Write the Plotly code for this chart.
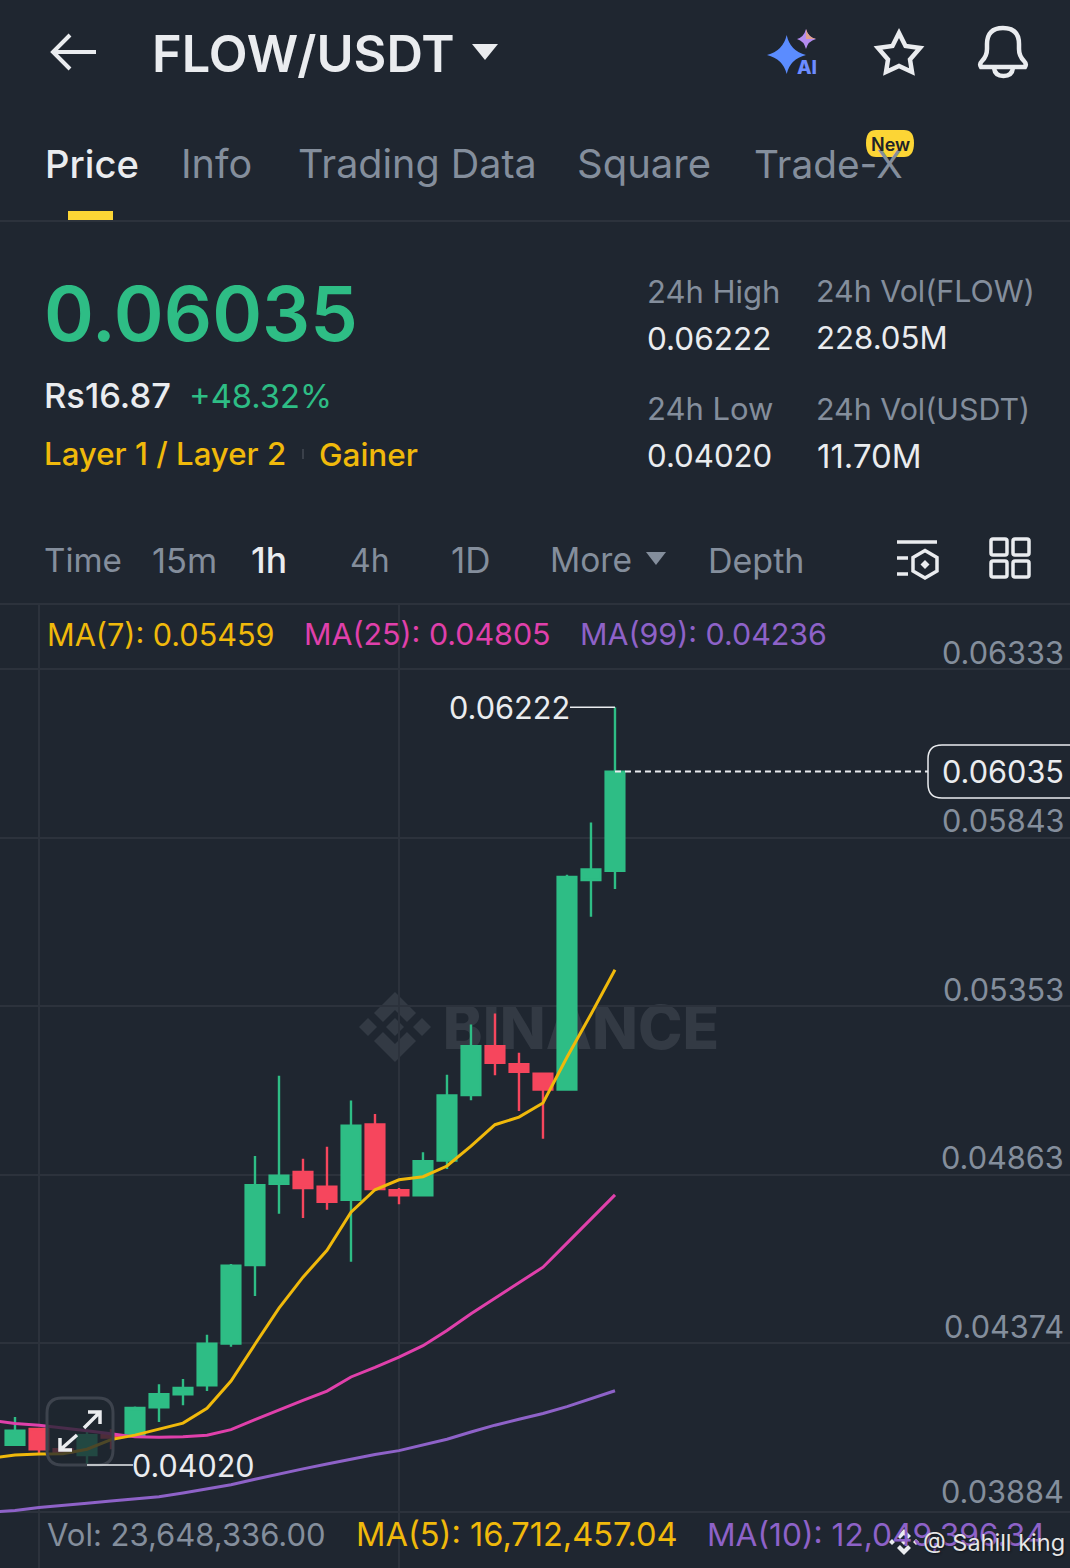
import re
import plotly.graph_objects as go

W, H = 1070, 1568
BG = "#1F2630"
GRID = "#2C323C"
GREEN = "#2EBD85"
RED = "#F6465D"
WHITE = "#EAECEF"
GREY = "#848E9C"
YELLOW = "#F0B90B"
PINK = "#E040AB"
PURPLE = "#8E62C8"
WM = "#333A44"
FONT = "Inter"

candle_x = list(range(26))
opens = [0.04079, 0.04125, 0.04066, 0.04049, 0.04107, 0.04107, 0.04188, 0.04226, 0.04252, 0.04373,
         0.04601, 0.04837, 0.04872, 0.04829, 0.04791, 0.05010, 0.04819, 0.04804, 0.04905, 0.05095,
         0.05237, 0.05185, 0.05157, 0.05111, 0.05720, 0.05747]
highs = [0.04160, 0.04125, 0.04075, 0.04118, 0.04124, 0.04190, 0.04255, 0.04270, 0.04399, 0.04604,
         0.04918, 0.05151, 0.04910, 0.04945, 0.05079, 0.05040, 0.04825, 0.04929, 0.05154, 0.05300,
         0.05332, 0.05218, 0.05160, 0.05735, 0.05887, 0.06222]
lows = [0.04079, 0.04049, 0.04052, 0.04020, 0.04066, 0.04107, 0.04145, 0.04194, 0.04235, 0.04364,
        0.04511, 0.04750, 0.04738, 0.04762, 0.04611, 0.04822, 0.04778, 0.04804, 0.04880, 0.05080,
        0.05153, 0.05049, 0.04968, 0.05111, 0.05613, 0.05694]
closes = [0.04120, 0.04066, 0.04057, 0.04107, 0.04100, 0.04186, 0.04226, 0.04244, 0.04373, 0.04599,
          0.04833, 0.04861, 0.04825, 0.04785, 0.05006, 0.04822, 0.04804, 0.04903, 0.05094, 0.05237,
          0.05189, 0.05163, 0.05111, 0.05729, 0.05751, 0.06035]

ma_x = list(range(-1, 26))
ma7 = [0.04040, 0.04049, 0.04052, 0.04053, 0.04066, 0.04094, 0.04107, 0.04125, 0.04142, 0.04185,
       0.04264, 0.04371, 0.04476, 0.04566, 0.04644, 0.04755, 0.04820, 0.04849, 0.04858, 0.04889,
       0.04947, 0.05009, 0.05031, 0.05072, 0.05205, 0.05330, 0.05459]
ma25 = [0.04150, 0.04141, 0.04136, 0.04129, 0.04120, 0.04111, 0.04102, 0.04101, 0.04102, 0.04107,
        0.04123, 0.04152, 0.04181, 0.04208, 0.04235, 0.04276, 0.04304, 0.04334, 0.04367, 0.04411,
        0.04460, 0.04505, 0.04550, 0.04595, 0.04665, 0.04736, 0.04805]
ma99 = [0.03883, 0.03888, 0.03897, 0.03902, 0.03909, 0.03916, 0.03921, 0.03928, 0.03939, 0.03950,
        0.03963, 0.03979, 0.03995, 0.04009, 0.04023, 0.04038, 0.04051, 0.04062, 0.04078, 0.04095,
        0.04116, 0.04136, 0.04153, 0.04170, 0.04190, 0.04213, 0.04236]

price_ticks = [0.06333, 0.05843, 0.05353, 0.04863, 0.04374, 0.03884]
price_labels = ["0.06333", "0.05843", "0.05353", "0.04863", "0.04374", "0.03884"]
time_grid = [1, 16]
last_price = 0.06035
high_price = 0.06222
low_price = 0.04020


def fx(px):
    return px / W


def fy(py):
    return 1 - py / H


def pth(d):
    # pixel path -> paper path
    out = []
    is_x = True
    for tok in re.findall(r"[A-Za-z]|-?\d+\.?\d*", d):
        if tok.isalpha():
            out.append(tok)
            is_x = True
        else:
            out.append(f"{fx(float(tok)):.5f}" if is_x else f"{fy(float(tok)):.5f}")
            is_x = not is_x
    return " ".join(out)


shapes = []
annots = []


def icon(d, line=None, lw=0, fill=None, layer="above"):
    shapes.append(dict(type="path", xref="paper", yref="paper", path=pth(d), layer=layer,
                       line=dict(color=line or "rgba(0,0,0,0)", width=lw),
                       fillcolor=fill or "rgba(0,0,0,0)"))


def hline(y, x0=0, x1=W, color=GRID, lw=2):
    icon(f"M{x0} {y} L{x1} {y}", line=color, lw=lw)


def txt(s, x, y, size, color=WHITE, anchor="left", weight=400, shadow=None):
    # annotations sit about 2px inside their anchor
    x = x - 2 if anchor == "left" else x
    font = dict(family=FONT, size=size, color=color, weight=weight)
    if shadow:
        font["shadow"] = shadow
    annots.append(dict(text=s, x=fx(x), y=fy(y), xref="paper", yref="paper", xanchor=anchor,
                       yanchor="middle", showarrow=False, borderpad=0, font=font))


fig = go.Figure()
fig.add_trace(go.Candlestick(
    x=candle_x, open=opens, high=highs, low=lows, close=closes,
    increasing=dict(line=dict(color=GREEN, width=2.4), fillcolor=GREEN),
    decreasing=dict(line=dict(color=RED, width=2.4), fillcolor=RED),
    whiskerwidth=0, hoverinfo="skip",
))
for vals, col in [(ma99, PURPLE), (ma25, PINK), (ma7, YELLOW)]:
    fig.add_trace(go.Scatter(x=ma_x, y=vals, mode="lines", line=dict(color=col, width=3),
                             hoverinfo="skip"))

# header
icon("M96 52 L54 52 M70 35 L53 52 L70 69", line=WHITE, lw=4)
txt("FLOW/USDT", 153, 54, 50.5, WHITE, weight=600)
icon("M472 44 L498 44 L485 60 Z", fill=WHITE)
icon("M786.7 35 Q790 51 806 55 Q790 59 786.7 74 Q783 59 767 55 Q783 51 786.7 35 Z", fill="#5B8CFF")
icon("M806 29 Q808 37 816 39 Q808 41 806 49 Q804 41 797 39 Q804 37 806 29 Z", fill="#B48CF0")
icon("M806 29 Q808 37 816 39 L806 39 Z", fill="#E0A08C")
txt("AI", 798, 67, 19, "#6C8CFF", weight=800)
icon("M899 33 L905.5 46 L920 48 L910 59.5 L912 72 L899 66 L886 72 L888 59.5 L878 48 L892.5 46 Z", line=WHITE, lw=4.5)
icon("M981 67 Q979 64 982 61 Q987 56 987 49 L987 44 Q987 28 1003 28 Q1019 28 1019 44 L1019 49 "
     "Q1019 56 1024 61 Q1027 64 1025 67 Z M994 68 Q995 76 1003.5 76 Q1012 76 1013 68", line=WHITE, lw=4.5)

# tabs
txt("Price", 46, 164, 38.2, WHITE, weight=500)
txt("Info", 182, 164, 39.5, GREY)
txt("Trading Data", 299, 164, 39.5, GREY)
txt("Square", 578, 164, 40, GREY)
txt("Trade-X", 755, 164, 38.8, GREY)
icon("M876 130 L904 130 Q914 130 914 143 Q914 157 904 157 L876 157 Q866 157 866 143 Q866 130 876 130 Z",
     fill="#FCD535")
txt("New", 890, 144, 18, "#1E2329", anchor="center", weight=600)
icon("M68 211 L113 211 L113 220 L68 220 Z", fill="#FCD535")
hline(221)

# price block
txt("0.06035", 45, 313, 75.7, GREEN, weight=600)
txt("Rs16.87", 45, 396, 34.5, WHITE, weight=500)
txt("+48.32%", 190, 396, 32.7, GREEN)
txt("Layer 1 / Layer 2", 45, 454, 31.2, YELLOW, weight=500)
icon("M303 449 L303 459", line="#3A404A", lw=2)
txt("Gainer", 320, 454, 31.5, YELLOW, weight=500)
txt("24h High", 648, 291, 31, GREY)
txt("0.06222", 648, 338, 31.5, WHITE)
txt("24h Vol(FLOW)", 817, 291, 30.4, GREY)
txt("228.05M", 817, 338, 31.2, WHITE)
txt("24h Low", 648, 409, 31, GREY)
txt("0.04020", 648, 456, 31.2, WHITE)
txt("24h Vol(USDT)", 817, 409, 30.4, GREY)
txt("11.70M", 818, 456, 33, WHITE)

# interval row
txt("Time", 45, 560, 33.2, GREY)
txt("15m", 153, 560, 34.5, GREY)
txt("1h", 252, 560, 35.5, WHITE, weight=500)
txt("4h", 351, 560, 32, GREY)
txt("1D", 452, 560, 35, GREY)
txt("More", 551, 560, 33.5, GREY)
icon("M646 552 L666 552 L656 565 Z", fill=GREY)
txt("Depth", 709, 560, 34, GREY)
icon("M897 542 L937 542 M897 558 L908 558 M897 574 L908 574", line=WHITE, lw=3.5)
icon("M925 550.5 L937 557.5 L937 571 L925 578 L913 571 L913 557.5 Z", line=WHITE, lw=3.5)
icon("M925 560 L929.5 564.5 L925 569 L920.5 564.5 Z", fill=WHITE)
for gx, gy in [(991, 539), (1013, 539), (991, 561), (1013, 561)]:
    icon(f"M{gx + 2} {gy} L{gx + 14} {gy} Q{gx + 16} {gy} {gx + 16} {gy + 2} L{gx + 16} {gy + 14} "
         f"Q{gx + 16} {gy + 16} {gx + 14} {gy + 16} L{gx + 2} {gy + 16} Q{gx} {gy + 16} {gx} {gy + 14} "
         f"L{gx} {gy + 2} Q{gx} {gy} {gx + 2} {gy} Z", line=WHITE, lw=3.5)
hline(604)

# indicator legend
txt("MA(7): 0.05459", 48, 634, 30.6, YELLOW)
txt("MA(25): 0.04805", 305, 634, 30.4, PINK)
txt("MA(99): 0.04236", 581, 634, 30.4, PURPLE)

# watermark, under the candles
lx, ly = 395, 1027
icon(f"M{lx} {ly - 35} L{lx + 21} {ly - 14} L{lx + 12} {ly - 5} L{lx} {ly - 17} L{lx - 12} {ly - 5} L{lx - 21} {ly - 14} Z",
     fill=WM, layer="below")
icon(f"M{lx} {ly + 35} L{lx + 21} {ly + 14} L{lx + 12} {ly + 5} L{lx} {ly + 17} L{lx - 12} {ly + 5} L{lx - 21} {ly + 14} Z",
     fill=WM, layer="below")
for dx in (-27, 0, 27):
    icon(f"M{lx + dx} {ly - 9} L{lx + dx + 9} {ly} L{lx + dx} {ly + 9} L{lx + dx - 9} {ly} Z", fill=WM, layer="below")
shapes.append(dict(type="rect", xref="paper", yref="paper", x0=fx(445), x1=fx(717), y0=fy(1048), y1=fy(1002),
                   layer="below", line=dict(width=0), fillcolor="rgba(0,0,0,0)",
                   label=dict(text="BINANCE", textposition="middle center",
                              font=dict(family=FONT, size=60, color=WM, weight=800))))

# price axis labels
for val, lab in zip(price_ticks, price_labels):
    annots.append(dict(text=lab, x=fx(1065), y=val, xref="paper", yref="y", xanchor="right", yanchor="middle",
                       yshift=20 if val == price_ticks[-1] else 17, showarrow=False, borderpad=0,
                       font=dict(family=FONT, size=30.7, color=GREY)))

# last price marker
shapes.append(dict(type="line", xref="x", yref="y", x0=candle_x[-1], x1=(928 - 15) / 24, y0=last_price, y1=last_price,
                   line=dict(color=WHITE, width=2, dash="6px,4px"), layer="above"))
icon("M942 745 L1090 745 L1090 798 L942 798 Q928 798 928 784 L928 759 Q928 745 942 745 Z",
     line=WHITE, lw=1.5, fill=BG)
annots.append(dict(text=f"{last_price:.5f}", x=fx(1065), y=last_price, xref="paper", yref="y", xanchor="right",
                   yanchor="middle", showarrow=False, borderpad=0, font=dict(family=FONT, size=30.7, color=WHITE)))

# high / low markers
shapes.append(dict(type="line", xref="x", yref="y", x0=(570 - 15) / 24, x1=25, y0=high_price, y1=high_price,
                   line=dict(color=WHITE, width=1.5), layer="above"))
annots.append(dict(text=f"{high_price:.5f}", x=fx(571), y=high_price, xref="paper", yref="y", xanchor="right",
                   yanchor="middle", showarrow=False, borderpad=0, font=dict(family=FONT, size=30.7, color=WHITE)))
annots.append(dict(text=f"{low_price:.5f}", x=fx(131), y=low_price, xref="paper", yref="y", xanchor="left",
                   yanchor="middle", showarrow=False, borderpad=0, font=dict(family=FONT, size=30.5, color=WHITE)))

# expand button
icon("M62 1398 L98 1398 Q113 1398 113 1413 L113 1450 Q113 1465 98 1465 L62 1465 Q47 1465 47 1450 L47 1413 Q47 1398 62 1398 Z",
     line="#3D434D", lw=3, fill="rgba(31,38,48,0.78)")
shapes.append(dict(type="line", xref="x", yref="y", x0=3, x1=(133 - 15) / 24, y0=low_price, y1=low_price,
                   line=dict(color=WHITE, width=1.5), layer="above"))
icon("M84 1428 L100 1412 M88 1412 L100 1412 L100 1424", line=WHITE, lw=3.5)
icon("M77 1435 L60 1450 M60 1438 L60 1450 L72 1450", line=WHITE, lw=3.5)

# volume line
txt("Vol: 23,648,336.00", 48, 1534, 31, GREY)
txt("MA(5): 16,712,457.04", 357, 1534, 32.6, YELLOW)
txt("MA(10): 12,049,396.34", 708, 1534, 31.7, PURPLE)
lx, ly = 904, 1542
icon(f"M{lx} {ly - 13} L{lx + 7} {ly - 6} L{lx + 4} {ly - 3} L{lx} {ly - 7} L{lx - 4} {ly - 3} L{lx - 7} {ly - 6} Z", fill=WHITE)
icon(f"M{lx} {ly + 13} L{lx + 7} {ly + 6} L{lx + 4} {ly + 3} L{lx} {ly + 7} L{lx - 4} {ly + 3} L{lx - 7} {ly + 6} Z", fill=WHITE)
for dx in (-12, 0, 12):
    icon(f"M{lx + dx} {ly - 3} L{lx + dx + 3} {ly} L{lx + dx} {ly + 3} L{lx + dx - 3} {ly} Z", fill=WHITE)
txt("@ Sahill king", 924, 1542, 23.5, "#E6E6E6", shadow="1px 1px 2px #10141a")

fig.update_layout(
    width=W, height=H, autosize=False, margin=dict(l=0, r=0, t=0, b=0),
    paper_bgcolor=BG, plot_bgcolor=BG, showlegend=False, boxgap=0.22, boxgroupgap=0, hovermode=False,
    shapes=shapes, annotations=annots, font=dict(family=FONT),
    xaxis=dict(range=[-0.625, 43.96], tickvals=time_grid, showticklabels=False, ticks="", showgrid=True,
               gridcolor=GRID, gridwidth=1.5, zeroline=False, rangeslider=dict(visible=False), fixedrange=True),
    yaxis=dict(range=[0.03721, 0.06519], domain=[0, 963 / H], tickvals=price_ticks, showticklabels=False, ticks="",
               showgrid=True, gridcolor=GRID, gridwidth=1.5, zeroline=False, fixedrange=True),
)

fig.write_html("out.html", post_script="document.body.style.margin='0';document.body.style.background='" + BG + "';",
               config=dict(displayModeBar=False))
